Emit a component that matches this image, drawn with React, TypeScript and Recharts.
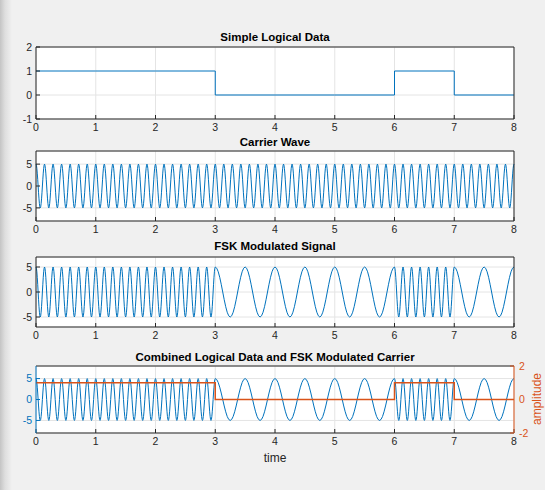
import { LineChart, Line, XAxis, YAxis, CartesianGrid } from "recharts";

// logical bit stream, one bit per second
const BITS = [1, 1, 1, 0, 0, 0, 1, 0];
const TIME_TICKS = [0, 1, 2, 3, 4, 5, 6, 7, 8];
const CARRIER_HZ = 7;
const MARK_HZ = 7; // bit 1
const SPACE_HZ = 2; // bit 0
const AMPLITUDE = 5;
// one carrier cycle (starts at a crest)
const CYCLE_SHAPE = [
  1, 0.951, 0.809, 0.588, 0.309, 0, -0.309, -0.588, -0.809, -0.951, -1, -0.951,
  -0.809, -0.588, -0.309, 0, 0.309, 0.588, 0.809, 0.951,
];
const LOGIC_TICKS = [-1, 0, 1, 2];
const WAVE_TICKS = [-5, 0, 5];
const AMP_TICKS = [-2, 0, 2];

const BLUE = "#0072BD";
const ORANGE = "#D95319";
const INK = "#262626";
const FONT = "'Liberation Sans', Arial, Helvetica, sans-serif";

type Pt = { t: number; v: number };

function logicSeries(): Pt[] {
  const pts = BITS.map((b, i) => ({ t: i, v: b }));
  pts.push({ t: BITS.length, v: BITS[BITS.length - 1] });
  return pts;
}

function waveSeries(hzFor: (bit: number) => number): Pt[] {
  const pts: Pt[] = [];
  BITS.forEach((bit, i) => {
    const hz = hzFor(bit);
    for (let c = 0; c < hz; c++) {
      CYCLE_SHAPE.forEach((s, k) =>
        pts.push({ t: i + (c + k / CYCLE_SHAPE.length) / hz, v: AMPLITUDE * s })
      );
    }
  });
  pts.push({ t: BITS.length, v: AMPLITUDE * CYCLE_SHAPE[0] });
  return pts;
}

const logicData = logicSeries();
const carrierData = waveSeries(() => CARRIER_HZ);
const fskData = waveSeries((b) => (b ? MARK_HZ : SPACE_HZ));

const W = 545;
const LEFT = 36; // plot left edge
const RIGHT = 31; // space right of plot
const MT = 6;
const MB = 20;

// MATLAB-style box: inward ticks on all four sides (axes are 1px thick boxes)
function boxAxes(
  yDomain: [number, number],
  yTicks: number[],
  leftColor = INK,
  right?: { domain: [number, number]; ticks: number[]; color: string }
) {
  const tickFont = { fontSize: 10.5, fontFamily: FONT };
  return [
    <XAxis
      key="xb"
      xAxisId="b"
      dataKey="t"
      type="number"
      domain={[0, 8]}
      ticks={TIME_TICKS}
      height={1}
      tickSize={-4}
      tickMargin={9}
      stroke={INK}
      tick={{ fill: INK, ...tickFont }}
    />,
    <XAxis
      key="xt"
      xAxisId="t"
      orientation="top"
      dataKey="t"
      type="number"
      domain={[0, 8]}
      ticks={TIME_TICKS}
      height={1}
      tickSize={-4}
      tick={false}
      stroke={INK}
    />,
    <YAxis
      key="yl"
      yAxisId="l"
      type="number"
      domain={yDomain}
      ticks={yTicks}
      width={1}
      tickSize={-4}
      tickMargin={8}
      stroke={leftColor}
      tick={{ fill: leftColor, ...tickFont }}
    />,
    right ? (
      <YAxis
        key="yr"
        yAxisId="r"
        orientation="right"
        type="number"
        domain={right.domain}
        ticks={right.ticks}
        width={1}
        tickSize={-4}
        tickMargin={9}
        stroke={right.color}
        tick={{ fill: right.color, ...tickFont }}
      />
    ) : (
      <YAxis
        key="yr"
        yAxisId="r"
        orientation="right"
        type="number"
        domain={yDomain}
        ticks={yTicks}
        width={1}
        tickSize={-4}
        tick={false}
        stroke={INK}
      />
    ),
    <CartesianGrid
      key="grid"
      xAxisId="b"
      yAxisId="l"
      stroke="#e4e4e4"
      fill="#ffffff"
      fillOpacity={1}
    />,
  ];
}

function Title({ y, text }: { y: number; text: string }) {
  return (
    <div
      style={{
        position: "absolute",
        left: LEFT,
        width: W - LEFT - RIGHT,
        top: y - 7,
        lineHeight: "14px",
        textAlign: "center",
        fontWeight: "bold",
        fontSize: 11.5,
        color: "#000",
      }}
    >
      {text}
    </div>
  );
}

function chartBox(plotTop: number) {
  return { position: "absolute" as const, left: 0, top: plotTop - MT };
}

export default function App() {
  const margin = { top: MT - 1, right: RIGHT - 1, bottom: MB - 1, left: LEFT - 1 };
  return (
    <div
      style={{
        position: "absolute",
        left: 0,
        top: 0,
        width: W,
        height: 490,
        background:
          "linear-gradient(90deg, #c4c4c4 0px, #dedede 5px, #f0f0f0 12px, #f0f0f0 100%)",
        fontFamily: FONT,
        overflow: "hidden",
      }}
    >
      <Title y={37} text="Simple Logical Data" />
      <div style={chartBox(47)}>
        <LineChart width={W} height={72 + MT + MB} margin={margin}>
          {boxAxes([-1, 2], LOGIC_TICKS)}
          <Line
            xAxisId="b"
            yAxisId="l"
            data={logicData}
            dataKey="v"
            type="stepAfter"
            stroke={BLUE}
            strokeWidth={1}
            dot={false}
            isAnimationActive={false}
          />
        </LineChart>
      </div>

      <Title y={142} text="Carrier Wave" />
      <div style={chartBox(151)}>
        <LineChart width={W} height={70 + MT + MB} margin={margin}>
          {boxAxes([-8, 8], WAVE_TICKS)}
          <Line
            xAxisId="b"
            yAxisId="l"
            data={carrierData}
            dataKey="v"
            type="linear"
            stroke={BLUE}
            strokeWidth={1}
            dot={false}
            isAnimationActive={false}
          />
        </LineChart>
      </div>

      <Title y={246} text="FSK Modulated Signal" />
      <div style={chartBox(257)}>
        <LineChart width={W} height={70 + MT + MB} margin={margin}>
          {boxAxes([-7, 7], WAVE_TICKS)}
          <Line
            xAxisId="b"
            yAxisId="l"
            data={fskData}
            dataKey="v"
            type="linear"
            stroke={BLUE}
            strokeWidth={1}
            dot={false}
            isAnimationActive={false}
          />
        </LineChart>
      </div>

      <Title y={357} text="Combined Logical Data and FSK Modulated Carrier" />
      <div style={chartBox(366)}>
        <LineChart width={W} height={67 + MT + MB} margin={margin}>
          {boxAxes([-8, 8], WAVE_TICKS, BLUE, {
            domain: [-2, 2],
            ticks: AMP_TICKS,
            color: ORANGE,
          })}
          <Line
            xAxisId="b"
            yAxisId="l"
            data={fskData}
            dataKey="v"
            type="linear"
            stroke={BLUE}
            strokeWidth={1}
            dot={false}
            isAnimationActive={false}
          />
          <Line
            xAxisId="b"
            yAxisId="r"
            data={logicData}
            dataKey="v"
            type="stepAfter"
            stroke={ORANGE}
            strokeWidth={1.5}
            dot={false}
            isAnimationActive={false}
          />
        </LineChart>
      </div>

      <div
        style={{
          position: "absolute",
          left: LEFT,
          width: W - LEFT - RIGHT,
          top: 451,
          lineHeight: "14px",
          textAlign: "center",
          fontSize: 12,
          color: INK,
        }}
      >
        time
      </div>
      <div
        style={{
          position: "absolute",
          left: 537 - 40,
          top: 399 - 7,
          width: 80,
          lineHeight: "14px",
          textAlign: "center",
          fontSize: 12,
          color: ORANGE,
          transform: "rotate(-90deg)",
        }}
      >
        amplitude
      </div>
    </div>
  );
}
